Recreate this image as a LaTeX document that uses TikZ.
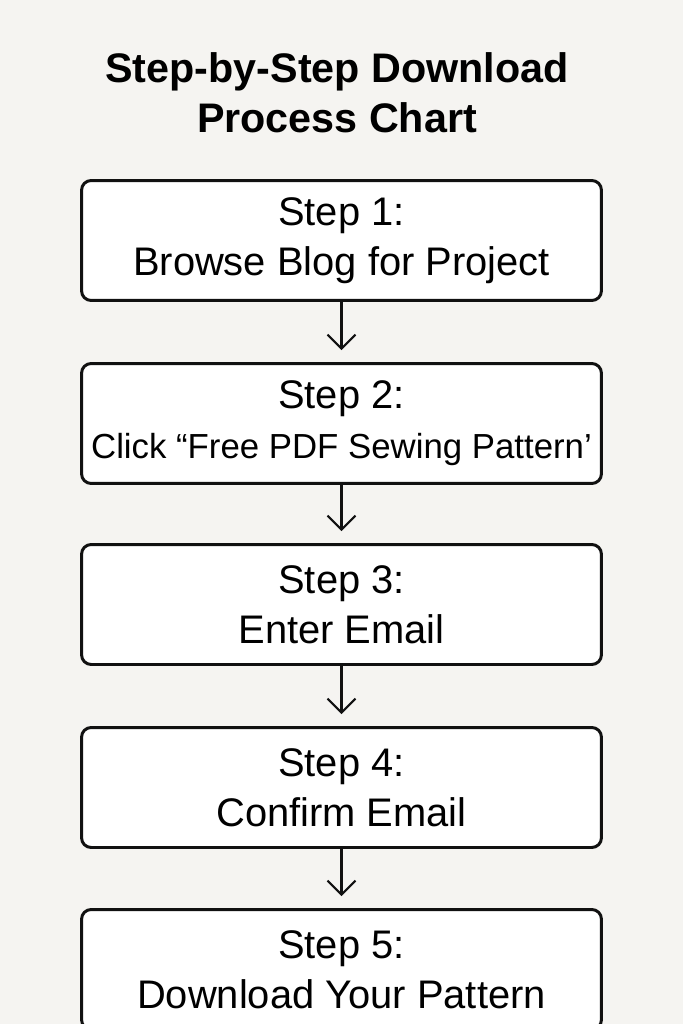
\documentclass[tikz,border=0pt]{standalone}
\usepackage{fontspec}
\setmainfont{Liberation Sans}
\usetikzlibrary{arrows.meta, calc}
\definecolor{cpaper}{HTML}{F5F4F1}
\definecolor{cink}{HTML}{111111}
\tikzset{
  every picture/.style={line width=1.2pt},
  stepbox/.style={draw=cink, fill=white, rounded corners=5.5pt, line width=1.7pt, align=center,
    minimum width=10.4cm, minimum height=2.4cm, inner sep=0pt, font=\fontsize{22.7}{28.3}\selectfont},
  arrow/.style={-{Straight Barb[length=2.8mm, width=5.6mm]}, draw=cink, line width=1.15pt, shorten >=0.24cm},
  title/.style={font=\fontsize{23.5}{28.3}\selectfont\bfseries, align=center},
}

\begin{document}
\begin{tikzpicture}[x=0.02cm, y=-0.02cm]
  % page
  \fill[cpaper] (0,0) rectangle (683,1024);
  \clip (0,0) rectangle (683,1024);

  \node[title] (head) at (337,93) {Step-by-Step Download\\Process Chart};

  % steps
  \node[stepbox] (s1) at (341.5,240.5) {Step 1:\\Browse Blog for Project};
  \node[stepbox] (s2) at (341.5,423.5) {Step 2:\\{\fontsize{19.8}{28.3}\selectfont Click “Free PDF Sewing Pattern’}};
  \node[stepbox] (s3) at (341.5,604.5) {Step 3:\\Enter Email};
  \node[stepbox] (s4) at (341.5,787.5) {Step 4:\\Confirm Email};
  \node[stepbox] (s5) at (341.5,969.5) {Step 5:\\Download Your Pattern};

  % arrows
  \foreach \a/\b in {s1/s2, s2/s3, s3/s4, s4/s5} \draw[arrow] (\a.south) -- (\b.north);
\end{tikzpicture}
\end{document}
